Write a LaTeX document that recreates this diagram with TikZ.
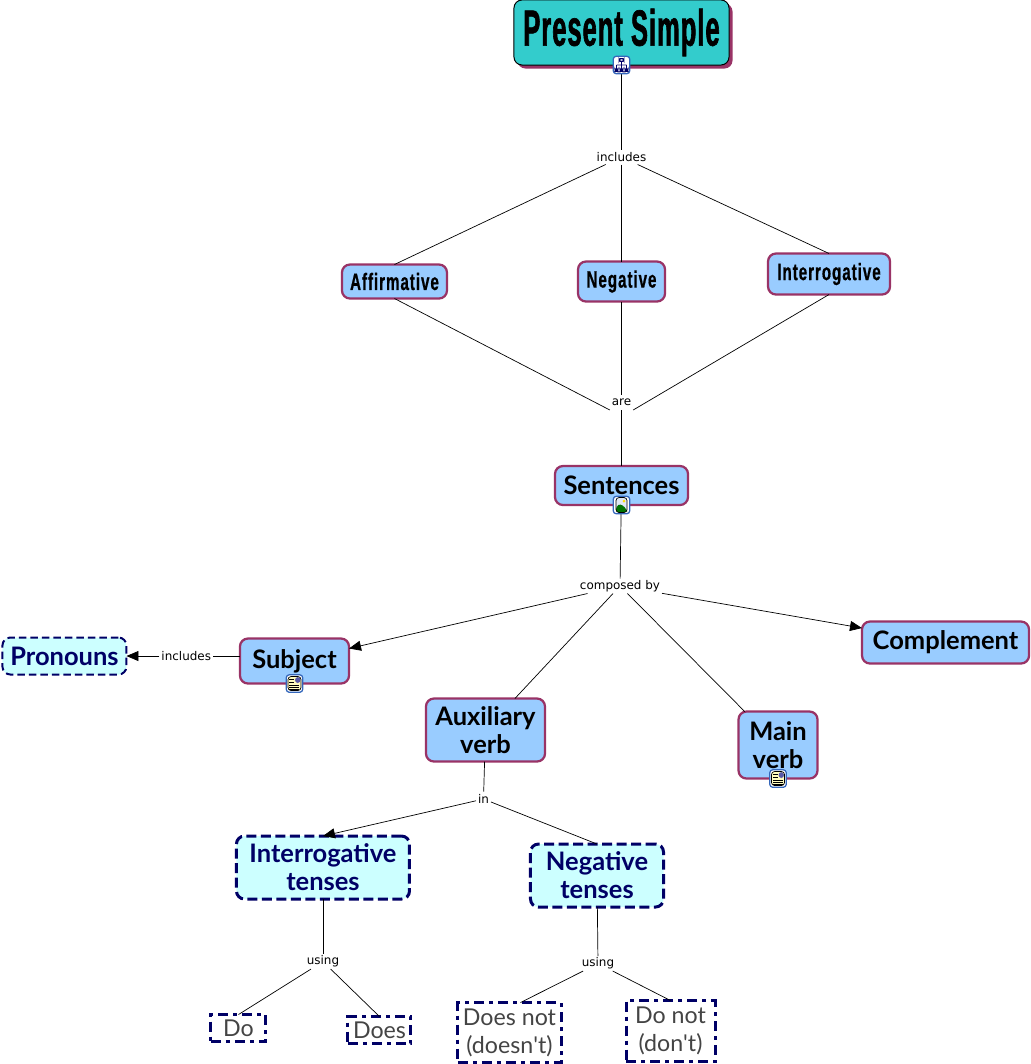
\documentclass[tikz,border=0pt]{standalone}
\usepackage{fontspec}
\setmainfont{Lato}
\newfontfamily\headfont[FakeStretch=0.5,FakeBold=1.2,LetterSpace=2]{Liberation Sans Bold}
\newfontfamily\subheadfont[FakeStretch=0.64,FakeBold=0.6,LetterSpace=4]{Liberation Sans Bold}
\newfontfamily\linkfont{DejaVu Sans}
\usetikzlibrary{arrows.meta,positioning,shadows}
\definecolor{rootfill}{HTML}{33CCCC}
\definecolor{shade}{HTML}{993366}
\definecolor{boxfill}{HTML}{99CCFF}
\definecolor{tensefill}{HTML}{CCFFFF}
\definecolor{navy}{HTML}{000066}
\definecolor{greytext}{HTML}{444444}
\definecolor{iconblue}{HTML}{3366BB}
\tikzset{
  boxsize/.style 2 args={minimum width=#1*0.02cm,minimum height=#2*0.02cm},
  conceptbox/.style={draw=shade,line width=0.045cm,fill=boxfill,rounded corners=0.16cm,inner sep=0pt,outer sep=0pt,align=center,font=\fontsize{14.5}{16}\selectfont\bfseries},
  subhead/.style={conceptbox,font=\fontsize{13.5}{16}\subheadfont},
  tensebox/.style={draw=navy,fill=tensefill,line width=0.06cm,dash pattern=on 0.2cm off 0.09cm,rounded corners=0.16cm,inner sep=0pt,outer sep=0pt,align=center,text=navy,font=\fontsize{14.5}{16}\selectfont\bfseries},
  wordbox/.style={draw=navy,fill=white,line width=0.06cm,dash pattern=on 0.2cm off 0.1cm on 0.08cm off 0.1cm,inner sep=0pt,outer sep=0pt,align=center,text=greytext,font=\fontsize{13.2}{16}\selectfont},
  linklabel/.style={fill=white,inner xsep=0.04cm,inner ysep=0pt,outer sep=0pt,minimum height=0.3cm,font=\fontsize{6.8}{8}\linkfont},
  iconbox/.style={draw=iconblue,fill=white,line width=0.025cm,rounded corners=0.06cm,minimum width=0.33cm,minimum height=0.35cm,inner sep=0pt},
  treeicon/.style={iconbox,path picture={
    \draw[navy,line width=0.014cm,shift={(path picture bounding box.center)}]
      (-0.05,0.13) rectangle (0.05,0.07) (0,0.07) -- (0,-0.08) (-0.1,0) -- (0.1,0)
      (-0.1,0) -- (-0.1,-0.08) (0.1,0) -- (0.1,-0.08)
      (-0.13,-0.08) rectangle (-0.07,-0.13) (-0.03,-0.08) rectangle (0.03,-0.13) (0.07,-0.08) rectangle (0.13,-0.13);}},
  imageicon/.style={iconbox,path picture={
    \begin{scope}[shift={(path picture bounding box.center)}]
    \fill[white!85!iconblue] (-0.11,-0.15) rectangle (0.11,0.15);
    \fill[yellow!80!orange] (0.05,0.08) circle (0.03);
    \fill[green!45!black] (-0.11,-0.15) -- (-0.11,-0.03) -- (-0.02,0.03) -- (0.11,-0.09) -- (0.11,-0.15) -- cycle;
    \draw[black,line width=0.014cm] (-0.11,-0.15) rectangle (0.11,0.15);
    \end{scope}}},
  docicon/.style={iconbox,path picture={
    \begin{scope}[shift={(path picture bounding box.center)}]
    \draw[black,fill=yellow!25,line width=0.014cm] (-0.13,-0.14) rectangle (0.13,0.14);
    \fill[gray!70!blue] (0.01,0.01) rectangle (0.12,0.13);
    \foreach \k in {0.08,0.03} { \draw[black,line width=0.012cm] (-0.1,\k) -- (-0.01,\k); }
    \foreach \k in {-0.03,-0.07,-0.11} { \draw[black,line width=0.012cm] (-0.1,\k) -- (0.1,\k); }
    \end{scope}}}
}
\begin{document}
\begin{tikzpicture}[>={Triangle[length=0.24cm,width=0.2cm]}]
\useasboundingbox (0,0) rectangle (20.6,-21.28);
\node[draw=black,line width=0.02cm,fill=rootfill,rounded corners=0.16cm,boxsize={215}{65},inner sep=0pt,outer sep=0pt,
  drop shadow={shadow xshift=0.07cm,shadow yshift=-0.07cm,fill=shade,opacity=1},font=\fontsize{29}{32}\headfont] (root) at (12.43,-0.65) {Present Simple};
% top half
\node[linklabel,below=1.69cm of root] (includesa) {includes};
\node[subhead,boxsize={87}{40},below=1.94cm of includesa] (negative) {Negative};
\node[subhead,boxsize={105}{34},left=2.62cm of negative] (affirmative) {Affirmative};
\node[subhead,boxsize={122}{41},right=2.06cm of negative,yshift=0.15cm] (interrogative) {Interrogative};
\node[linklabel,below=1.87cm of negative] (are) {are};
\node[conceptbox,boxsize={133}{39},below=1.12cm of are] (sentences) {Sentences};
\node[linklabel,below=1.47cm of sentences,xshift=-0.03cm] (composed) {composed by};
% middle row
\node[conceptbox,boxsize={109}{45},below left=1.05cm and 5.42cm of composed.center] (subject) {Subject};
\node[conceptbox,boxsize={119}{63},below left=2.25cm and 1.5cm of composed.center] (auxiliary) {Auxiliary\\verb};
\node[conceptbox,boxsize={79}{67},below right=2.51cm and 2.37cm of composed.center] (mainverb) {Main\\verb};
\node[conceptbox,boxsize={167}{42},below right=0.71cm and 4.84cm of composed.center] (complement) {Complement};
\node[linklabel,left=0.54cm of subject,yshift=0.1cm] (includesb) {includes};
\node[tensebox,line width=0.04cm,dash pattern=on 0.15cm off 0.08cm,boxsize={124}{37},left=0.66cm of includesb] (pronouns) {Pronouns};
% tenses
\node[linklabel,below=0.6cm of auxiliary,xshift=-0.04cm] (in) {in};
\node[tensebox,boxsize={173}{63},below left=0.74cm and 1.48cm of in.center] (inttenses) {Interrogative\\tenses};
\node[tensebox,boxsize={133}{63},below right=0.9cm and 0.94cm of in.center] (negtenses) {Negative\\tenses};
\node[linklabel,below=1.1cm of inttenses] (usinga) {using};
\node[linklabel,below=0.98cm of negtenses,xshift=0.02cm] (usingb) {using};
\node[wordbox,boxsize={55}{27},below left=1.06cm and 1.14cm of usinga.center] (do) {Do};
\node[wordbox,boxsize={63}{27},below right=1.1cm and 0.5cm of usinga.center] (does) {Does};
\node[wordbox,boxsize={103}{60},below left=0.78cm and 0.74cm of usingb.center] (doesnot) {Does not\\(doesn\textquotesingle t)};
\node[wordbox,boxsize={89}{61},below right=0.74cm and 0.56cm of usingb.center] (donot) {Do not\\(don\textquotesingle t)};
% connectors
\draw (root) -- (includesa);
\draw (includesa) -- (affirmative.north); \draw (includesa) -- (negative); \draw (includesa) -- (interrogative.north);
\draw (affirmative.south) -- (are.south west); \draw (negative) -- (are); \draw (interrogative.south) -- (are.south east);
\draw (are) -- (sentences); \draw (sentences) -- (composed);
\draw[->] (composed) -- (subject); \draw (composed) -- (auxiliary);
\draw (composed) -- (mainverb); \draw[->] (composed) -- (complement);
\draw (subject.west |- includesb) -- (includesb); \draw[->] (includesb) -- (pronouns);
\draw (auxiliary) -- (in); \draw[->] (in) -- (inttenses.north); \draw (in) -- (negtenses.north);
\draw (inttenses) -- (usinga); \draw (usinga) -- (do.north); \draw (usinga) -- (does.north);
\draw (negtenses) -- (usingb); \draw (usingb) -- ([xshift=0.22cm]doesnot.north); \draw (usingb) -- (donot.north);
% resource icons
\node[treeicon] (rooticon) at (root.south) {};
\node[imageicon] (sentencesicon) at (sentences.south) {};
\node[docicon] (subjecticon) at (subject.south) {};
\node[docicon] (mainicon) at (mainverb.south) {};
\end{tikzpicture}
\end{document}
